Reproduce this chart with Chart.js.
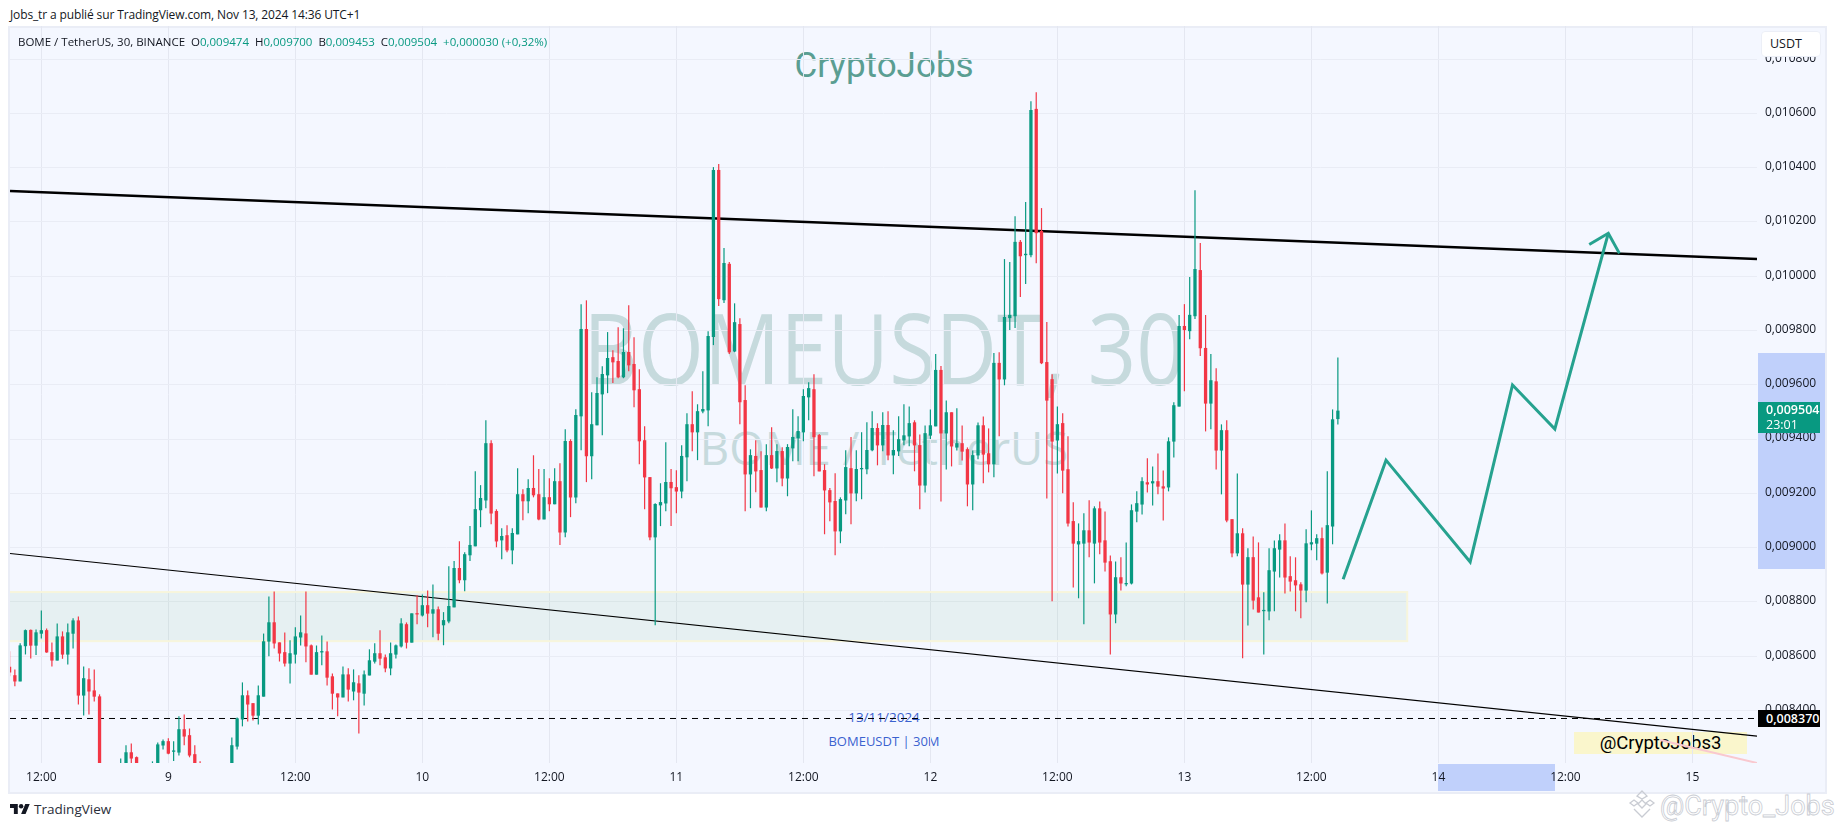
<!DOCTYPE html>
<html>
<head>
<meta charset="utf-8">
<title>BOMEUSDT 30</title>
<script src="https://cdn.jsdelivr.net/npm/chart.js@4"></script>
<style>
    html, body { margin: 0; padding: 0; background: #ffffff; }
    body { position: relative; width: 1835px; height: 827px; overflow: hidden; font-family: "Open Sans", sans-serif; color: #131722; }
    .abs { position: absolute; white-space: nowrap; }
    #panel { left: 8px; top: 26px; width: 1815px; height: 764px; background: #f4f7ff; border: 2px solid #eaedf6; }
    .hl { position: absolute; background: #c0d0fb; }
    .wm { color: #c6dadd; line-height: 1; }
    #chartCanvas { position: absolute; left: 0; top: 0; z-index: 1; }
    .top { z-index: 2; }
    .tag { left: 1758px; width: 54px; padding-left: 8px; background: #089981; color: #fff; font-size: 12.5px; font-weight: 600; }
    .val { color: #089981; }
</style>
</head>
<body>
<div class="abs" style="left:10px;top:6px;font-size:12px;letter-spacing:-0.13px;">Jobs_tr a publié sur TradingView.com, Nov 13, 2024 14:36 UTC+1</div>
<div id="panel" class="abs"></div>
<div class="hl" style="left:1758px;top:353px;width:67px;height:216px;"></div>
<div class="hl" style="left:1438px;top:764px;width:117px;height:27px;"></div>
<div class="abs" style="left:884px;top:45px;font-family:Roboto,sans-serif;font-size:35px;color:#5a9e92;transform:translateX(-50%);">CryptoJobs</div>
<div class="abs wm" style="left:884px;top:298px;font-size:98px;transform:translateX(-50%) scaleX(0.865);">BOMEUSDT, 30</div>
<div class="abs wm" style="left:884px;top:425px;font-size:45.5px;transform:translateX(-50%);">BOME / TetherUS</div>
<div class="abs" style="left:884px;top:708px;font-size:13.5px;color:#3b62cf;transform:translateX(-50%);">13/11/2024</div>
<div class="abs" style="left:884px;top:732px;font-size:13px;color:#3b62cf;transform:translateX(-50%);">BOMEUSDT | 30M</div>
<div class="abs" style="left:1574px;top:732px;width:173px;height:22px;line-height:22px;background:#faf6cc;color:#000;font-family:Roboto,sans-serif;font-size:18.5px;text-align:center;">@CryptoJobs3</div>

<canvas id="chartCanvas" width="1835" height="827"></canvas>

<div class="abs top" style="left:18px;top:34px;font-size:11.5px;">BOME / TetherUS, 30, BINANCE&nbsp;&nbsp;O<span class="val">0,009474</span>&nbsp;&nbsp;H<span class="val">0,009700</span>&nbsp;&nbsp;B<span class="val">0,009453</span>&nbsp;&nbsp;C<span class="val">0,009504</span>&nbsp;&nbsp;<span class="val">+0,000030 (+0,32%)</span></div>
<div class="abs top" style="left:1761px;top:31px;width:58px;height:24px;line-height:24px;background:#fff;border:1px solid #eceff7;border-radius:4px;font-size:12.5px;text-indent:8px;">USDT</div>
<div class="abs top tag" style="top:402px;height:31px;line-height:15px;">0,009504<br><span style="font-weight:400;">23:01</span></div>
<div class="abs top tag" style="top:710px;height:17px;line-height:17px;background:#000;">0,008370</div>

<svg class="abs" style="left:10px;top:803px;" width="20" height="12" viewBox="0 3 36 20"><path d="M14 22H7V11H0V4h14v18zM28 22h-8l7.5-18h8L28 22z" fill="#131722"/><circle cx="20" cy="8" r="4" fill="#131722"/></svg>
<div class="abs" style="left:34px;top:800px;font-size:13.5px;color:#2a2e39;">TradingView</div>
<svg class="abs" style="left:1628px;top:789px;" width="28" height="30" viewBox="0 0 28 30" fill="none" stroke="#c9ccd3" stroke-width="1.3"><path d="M14 2l5 5-5 3-5-3zM2 14l4-3 4 3-4 3zM26 14l-4-3-4 3 4 3zM14 11l4 4-4 4-4-4zM6 20l8 8 8-8"/></svg>
<div class="abs" style="left:1660px;top:790px;font-family:Roboto,sans-serif;font-size:27px;color:#fff;-webkit-text-stroke:0.8px #c9ccd3;">@Crypto_Jobs</div>

<script>
// prices are in millionths of a USDT, one slot is one 30 minute candle, slot 0 = Nov 8 12:00
const FIRST_SLOT = -6;

const OPENS = [
    8560,8529,8507,8637,8696,8639,8683,8695,8614,8584,
    8672,8606,8683,8731,8455,8514,8473,8451,8130,8110,
    8120,8150,8190,8245,8227,8170,8150,8175,8195,8271,
    8286,8248,8245,8330,8308,8238,8190,8170,8150,8140,
    8165,8150,8180,8267,8367,8455,8426,8381,8451,8654,
    8724,8650,8614,8573,8606,8669,8683,8639,8532,8614,
    8617,8525,8462,8448,8532,8470,8499,8462,8529,8580,
    8610,8595,8555,8606,8636,8717,8650,8757,8750,8787,
    8757,8772,8714,8728,8780,8924,8880,8972,9005,9138,
    9174,9384,9134,9027,9045,8990,9049,9196,9171,9219,
    9196,9104,9185,9160,9244,9056,9392,9185,9484,9805,
    9337,9451,9565,9635,9701,9687,9628,9720,9676,9583,
    9395,9259,9038,9156,9163,9241,9222,9207,9333,9454,
    9425,9502,9506,9776,10391,9912,10045,9723,9823,9543,
    9270,9337,9285,9148,9340,9292,9355,9255,9366,9403,
    9425,9554,9583,9414,9285,9211,9171,9060,9174,9292,
    9200,9289,9289,9359,9440,9377,9451,9340,9355,9395,
    9410,9461,9377,9229,9413,9447,9654,9421,9498,9369,
    9384,9362,9233,9340,9450,9347,9307,9680,9620,9846,
    9853,10126,10078,10078,10616,10166,9683,9620,9395,9458,
    9288,9097,9012,9015,9063,9015,9144,9026,8949,8754,
    8890,8865,8868,9133,9159,9240,9237,9244,9225,9222,
    9391,9520,9816,9798,9853,10022,9735,9531,9612,9358,
    9432,9104,8979,9052,8864,8964,8816,8766,8765,8912,
    8993,9026,8894,8879,8864,8842,9012,9015,9034,8908,
    9078,9474
];
const HIGHS = [
    8618,8551,8647,8698,8698,8698,8768,8702,8650,8720,
    8691,8720,8739,8746,8562,8555,8551,8459,8170,8150,
    8180,8223,8271,8278,8230,8190,8190,8212,8282,8293,
    8297,8286,8378,8385,8333,8271,8212,8190,8175,8180,
    8190,8195,8300,8374,8503,8473,8426,8492,8683,8820,
    8838,8650,8687,8658,8706,8750,8838,8643,8639,8676,
    8654,8536,8462,8562,8555,8551,8529,8547,8625,8647,
    8695,8606,8650,8643,8739,8724,8757,8824,8827,8842,
    8864,8783,8762,8931,8950,9023,8983,9079,9281,9230,
    9469,9395,9141,9071,9082,9071,9292,9215,9252,9340,
    9289,9289,9255,9292,9311,9436,9399,9510,9897,9911,
    9572,9628,9668,9794,9727,9812,9808,9893,9775,9657,
    9447,9259,9163,9237,9388,9289,9285,9377,9495,9576,
    9528,9650,9797,10402,10413,10104,10052,9900,9845,9598,
    9362,9395,9355,9381,9443,9381,9370,9381,9510,9484,
    9583,9609,9639,9418,9307,9219,9274,9185,9359,9407,
    9359,9425,9462,9502,9458,9499,9502,9432,9484,9528,
    9520,9469,9417,9450,9509,9713,9669,9542,9498,9513,
    9450,9369,9358,9461,9483,9439,9717,9720,10063,10052,
    10221,10133,10273,10645,10678,10251,9831,9639,9520,9495,
    9410,9167,9089,9126,9174,9152,9170,9133,8971,8949,
    8964,9019,9159,9207,9259,9329,9299,9347,9284,9406,
    9535,9857,9897,9997,10317,10122,9857,9713,9661,9454,
    9469,9104,9273,9071,8997,9041,9019,8835,8997,9026,
    9049,9089,8968,8964,8872,9067,9137,9049,9074,9281,
    9509,9700
];
const LOWS = [
    8526,8489,8507,8606,8591,8604,8665,8612,8562,8584,
    8590,8569,8628,8422,8381,8385,8433,8100,8090,8080,
    8100,8130,8170,8190,8140,8120,8120,8150,8170,8256,
    8238,8213,8234,8271,8227,8170,8150,8130,8120,8110,
    8130,8130,8160,8256,8341,8359,8363,8348,8451,8599,
    8628,8580,8562,8499,8573,8639,8577,8532,8532,8566,
    8492,8403,8378,8448,8433,8437,8315,8418,8529,8573,
    8566,8540,8529,8591,8632,8628,8650,8717,8746,8706,
    8669,8658,8640,8721,8780,8868,8839,8950,9005,9075,
    9145,9086,9001,8957,8983,8938,9049,9101,9126,9185,
    9101,9104,9134,9160,9009,9038,9112,9163,9359,9241,
    9252,9451,9414,9569,9606,9624,9624,9650,9517,9307,
    9141,9027,8714,9079,9134,9079,9126,9182,9244,9355,
    9322,9495,9447,9746,9890,9901,9713,9720,9454,9134,
    9145,9204,9148,9134,9289,9241,9226,9189,9318,9318,
    9392,9469,9263,9281,9049,9097,8972,9016,9123,9086,
    9171,9178,9270,9355,9303,9355,9322,9270,9337,9377,
    9373,9281,9141,9203,9400,9447,9170,9288,9299,9358,
    9321,9152,9137,9325,9237,9277,9259,9410,9598,9802,
    9809,9923,9971,10070,10048,9676,9181,8802,9273,9200,
    9078,8853,8813,8717,8964,8868,8975,8912,8606,8721,
    8842,8857,8864,9093,9122,9203,9155,9196,9100,9207,
    9332,9520,9576,9768,9842,9706,9428,9436,9288,9196,
    9093,8964,8968,8592,8713,8772,8761,8606,8732,8765,
    8890,8831,8838,8765,8739,8798,8990,8953,8901,8794,
    9012,9453
];
const CLOSES = [
    8540,8507,8639,8695,8639,8687,8695,8614,8584,8672,
    8606,8687,8731,8455,8518,8470,8451,8130,8110,8120,
    8160,8190,8245,8223,8170,8150,8175,8195,8274,8286,
    8241,8249,8330,8304,8234,8190,8170,8150,8140,8165,
    8150,8180,8271,8370,8455,8422,8381,8455,8654,8724,
    8647,8610,8573,8610,8672,8687,8636,8532,8614,8617,
    8521,8462,8448,8532,8477,8503,8466,8532,8584,8610,
    8591,8555,8610,8639,8720,8650,8757,8754,8787,8757,
    8772,8683,8732,8784,8924,8880,8975,9009,9141,9182,
    9384,9126,9023,9042,8990,9053,9196,9171,9219,9193,
    9104,9185,9160,9244,9056,9392,9185,9488,9805,9337,
    9454,9569,9639,9698,9683,9628,9720,9672,9580,9392,
    9259,9038,9160,9167,9241,9219,9207,9337,9454,9425,
    9502,9510,9779,10391,9916,10048,9720,9830,9536,9270,
    9340,9281,9148,9340,9292,9355,9255,9370,9407,9429,
    9558,9587,9407,9281,9211,9167,9060,9178,9296,9200,
    9289,9292,9359,9440,9377,9451,9340,9359,9399,9413,
    9458,9377,9229,9421,9450,9654,9421,9498,9373,9384,
    9354,9233,9340,9450,9343,9307,9680,9620,9849,9857,
    10126,10074,10082,10612,10159,9680,9542,9391,9454,9284,
    9089,9015,9023,9063,9019,9144,9019,8945,8754,8890,
    8868,8868,9137,9163,9244,9233,9244,9225,9218,9391,
    9524,9816,9802,9857,10026,9735,9531,9616,9358,9432,
    9100,8979,9052,8864,8964,8805,8761,8768,8916,8997,
    9026,8890,8875,8861,8842,9015,9019,9034,8905,9082,
    9472,9504
];

const SLOT_MIN = -5.92, SLOT_MAX = 324.2;
const PRICE_MIN = 8206, PRICE_MAX = 10922;

// tick labels every 24 slots, starting at slot 0
const TIME_LABELS = ['12:00','9','12:00','10','12:00','11','12:00','12','12:00','13','12:00','14','12:00','15'];

// drawings on the chart
const RESISTANCE_SLOTS = [SLOT_MIN, SLOT_MAX], RESISTANCE_PRICES = [10314, 10063];
const SUPPORT_SLOTS = [SLOT_MIN, SLOT_MAX], SUPPORT_PRICES = [8978, 8305];
const LEVEL_SLOTS = [SLOT_MIN, SLOT_MAX], LEVEL_PRICES = [8370, 8370];
const PINK_SLOTS = [305.9, SLOT_MAX], PINK_PRICES = [8291, 8206];
const PATH_SLOTS = [246, 254.1, 270, 278, 286, 296.1], PATH_PRICES = [8883, 9322, 8947, 9599, 9437, 10158];
const HEAD_SLOTS = [292.5, 296.1, 298.2], HEAD_PRICES = [10117, 10158, 10084];
const ZONE_SLOT_END = 258.1, ZONE_HIGH = 8836, ZONE_LOW = 8655;

const UP_COLOR = '#089981';
const DOWN_COLOR = '#f23645';

function toPoints(xs, ys) {
    return xs.map((x, i) => ({ x: x, y: ys[i] }));
}

function lineDataset(xs, ys, color, width, order, dash) {
    return {
        type: 'line',
        data: toPoints(xs, ys),
        borderColor: color,
        borderWidth: width,
        borderDash: dash || [],
        pointRadius: 0,
        tension: 0,
        order: order
    };
}

const slots = OPENS.map((o, i) => i + FIRST_SLOT);
const candleColors = OPENS.map((o, i) => CLOSES[i] >= o ? UP_COLOR : DOWN_COLOR);

const wickData = slots.map((s, i) => ({ x: s, y: [LOWS[i], HIGHS[i]] }));
const bodyData = slots.map((s, i) => ({ x: s, y: [Math.min(OPENS[i], CLOSES[i]), Math.max(OPENS[i], CLOSES[i])] }));

// green box behind the candles
const zonePlugin = {
    id: 'zone',
    beforeDatasetsDraw(chart) {
        const { ctx, chartArea, scales } = chart;
        const x0 = scales.x.getPixelForValue(SLOT_MIN) - 4;
        const x1 = scales.x.getPixelForValue(ZONE_SLOT_END);
        const y0 = scales.y.getPixelForValue(ZONE_HIGH);
        const y1 = scales.y.getPixelForValue(ZONE_LOW);
        ctx.save();
        ctx.beginPath();
        ctx.rect(chartArea.left, chartArea.top, chartArea.right - chartArea.left, chartArea.bottom - chartArea.top);
        ctx.clip();
        ctx.fillStyle = 'rgba(76, 175, 110, 0.085)';
        ctx.fillRect(x0, y0, x1 - x0, y1 - y0);
        ctx.strokeStyle = '#f7f5dc';
        ctx.lineWidth = 2;
        ctx.strokeRect(x0, y0, x1 - x0, y1 - y0);
        ctx.restore();
    }
};

new Chart(document.getElementById('chartCanvas'), {
    data: {
        datasets: [
            { type: 'bar', data: bodyData, backgroundColor: candleColors, barThickness: 3, inflateAmount: 0.15, minBarLength: 1, grouped: false, order: 1 },
            { type: 'bar', data: wickData, backgroundColor: candleColors, barThickness: 1.2, inflateAmount: 0, grouped: false, order: 2 },
            lineDataset(RESISTANCE_SLOTS, RESISTANCE_PRICES, '#000000', 2.5, 3),
            lineDataset(SUPPORT_SLOTS, SUPPORT_PRICES, '#000000', 1.2, 3),
            lineDataset(LEVEL_SLOTS, LEVEL_PRICES, '#000000', 1, 3, [6, 5]),
            lineDataset(PINK_SLOTS, PINK_PRICES, '#f9c8cf', 2, 3),
            lineDataset(PATH_SLOTS, PATH_PRICES, '#26a28f', 3, 0),
            lineDataset(HEAD_SLOTS, HEAD_PRICES, '#26a28f', 3, 0)
        ]
    },
    options: {
        responsive: false,
        animation: false,
        layout: { padding: { left: 10, top: 26, right: 10, bottom: 35 } },
        plugins: {
            legend: { display: false },
            tooltip: { enabled: false }
        },
        scales: {
            x: {
                type: 'linear',
                offset: false,
                min: SLOT_MIN,
                max: SLOT_MAX,
                afterFit(scale) { scale.height = 29; },
                grid: { color: '#e4e7f1', offset: false, drawTicks: false },
                border: { display: false },
                ticks: {
                    stepSize: 24,
                    includeBounds: false,
                    autoSkip: false,
                    maxRotation: 0,
                    padding: 7,
                    color: '#131722',
                    font: { family: "'Open Sans', sans-serif", size: 12 },
                    callback: value => TIME_LABELS[value / 24]
                }
            },
            y: {
                position: 'right',
                min: PRICE_MIN,
                max: PRICE_MAX,
                afterFit(scale) { scale.width = 68; },
                grid: { color: '#e9ecf5', drawTicks: false },
                border: { display: false },
                ticks: {
                    stepSize: 200,
                    includeBounds: false,
                    autoSkip: false,
                    padding: 8,
                    labelOffset: -1,
                    color: '#131722',
                    font: { family: "'Open Sans', sans-serif", size: 12 },
                    callback: value => '0,' + String(value).padStart(6, '0')
                }
            }
        }
    },
    plugins: [zonePlugin]
});
</script>
</body>
</html>
